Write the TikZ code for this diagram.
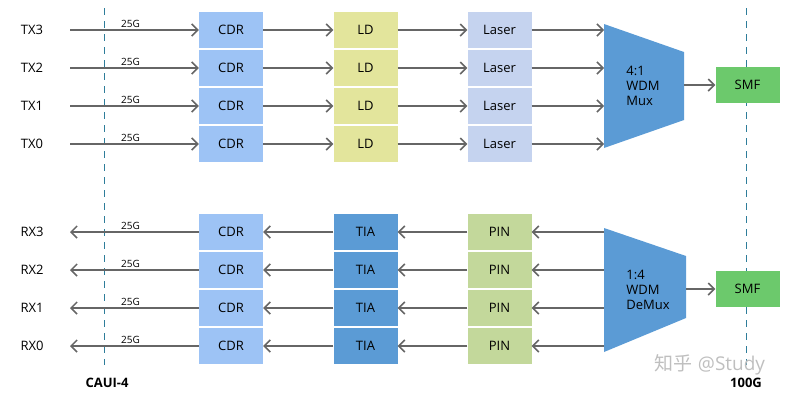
\documentclass[tikz,border=0pt]{standalone}
\usepackage{fontspec}
\setmainfont{Open Sans}
\newfontfamily\cjk{Noto Sans CJK SC}
\usetikzlibrary{arrows.meta}
\definecolor{cdr}{HTML}{9DC3F5}
\definecolor{ld}{HTML}{E3E59C}
\definecolor{laser}{HTML}{C5D3EF}
\definecolor{mux}{HTML}{5B9BD5}
\definecolor{smf}{HTML}{6CC96C}
\definecolor{pin}{HTML}{C3D89B}
\definecolor{arr}{HTML}{666666}
\definecolor{dashc}{HTML}{2E7D9A}
\begin{document}
\begin{tikzpicture}[x=1pt,y=-1pt,
 box/.style={minimum width=64pt,minimum height=36pt,inner sep=0pt,font=\fontsize{13}{15}\selectfont},
 lab/.style={font=\fontsize{13}{15}\selectfont},
 sm/.style={font=\fontsize{10}{12}\selectfont,inner sep=2pt},
 a/.style={draw=arr,line width=1.5pt,-{Straight Barb[length=6pt,width=12pt]}}]
\useasboundingbox (0,0) rectangle (800,400);
\draw[dashc,dash pattern=on 7pt off 6pt] (104,8) -- (104,365);
\draw[dashc,dash pattern=on 7pt off 6pt] (746,8) -- (746,365);
% mux
\fill[mux] (604,24) -- (684,52) -- (684,120) -- (604,148) -- cycle;
\node[lab,align=left] (mux) at (643,86) {4:1\\WDM\\Mux};
\fill[mux] (604,228) -- (686,256) -- (686,318) -- (604,352) -- cycle;
\node[lab,align=left] (demux) at (648,290) {1:4\\WDM\\DeMux};
\node[box,fill=smf] (smft) at (747.5,85) {SMF};
\node[box,fill=smf] (smfr) at (747.5,289) {SMF};
\coordinate (muxr) at (684,85);
\coordinate (demuxr) at (686,289);
\draw[a] (muxr) -- (smft);
\draw[a] (demuxr) -- (smfr);
\foreach \i/\y in {3/30,2/68,1/106,0/144}{
 \node[lab] (tx\i) at (32,\y) {TX\i};
 \node[box,fill=cdr] (tc\i) at (231,\y) {CDR};
 \node[box,fill=ld] (ld\i) at (365.5,\y) {LD};
 \node[box,fill=laser] (la\i) at (499.5,\y) {Laser};
 \coordinate (ts\i) at (70,\y);
 \coordinate (mi\i) at (604,\y);
 \draw[a] (ts\i) -- node[sm,above,pos=0.47]{25G} (tc\i);
 \draw[a] (tc\i) -- (ld\i);
 \draw[a] (ld\i) -- (la\i);
 \draw[a] (la\i) -- (mi\i);
}
\foreach \i/\y in {3/232,2/270,1/308,0/346}{
 \node[lab] (rx\i) at (32,\y) {RX\i};
 \node[box,fill=cdr] (rc\i) at (231,\y) {CDR};
 \node[box,fill=mux] (tia\i) at (365.5,\y) {TIA};
 \node[box,fill=pin] (pin\i) at (499.5,\y) {PIN};
 \coordinate (re\i) at (70,\y);
 \coordinate (di\i) at (604,\y);
 \draw[a] (rc\i) -- node[sm,above,pos=0.53]{25G} (re\i);
 \draw[a] (tia\i) -- (rc\i);
 \draw[a] (pin\i) -- (tia\i);
 \draw[a] (di\i) -- (pin\i);
}
\node[font=\bfseries\fontsize{13}{15}\selectfont] (caui) at (107,383) {CAUI-4};
\node[font=\bfseries\fontsize{13}{15}\selectfont] (g100) at (746,383) {100G};
\node[text=black!25,font=\fontsize{19}{22}\selectfont] (wm) at (710,365) {{\cjk 知乎} @Study};
\end{tikzpicture}
\end{document}
